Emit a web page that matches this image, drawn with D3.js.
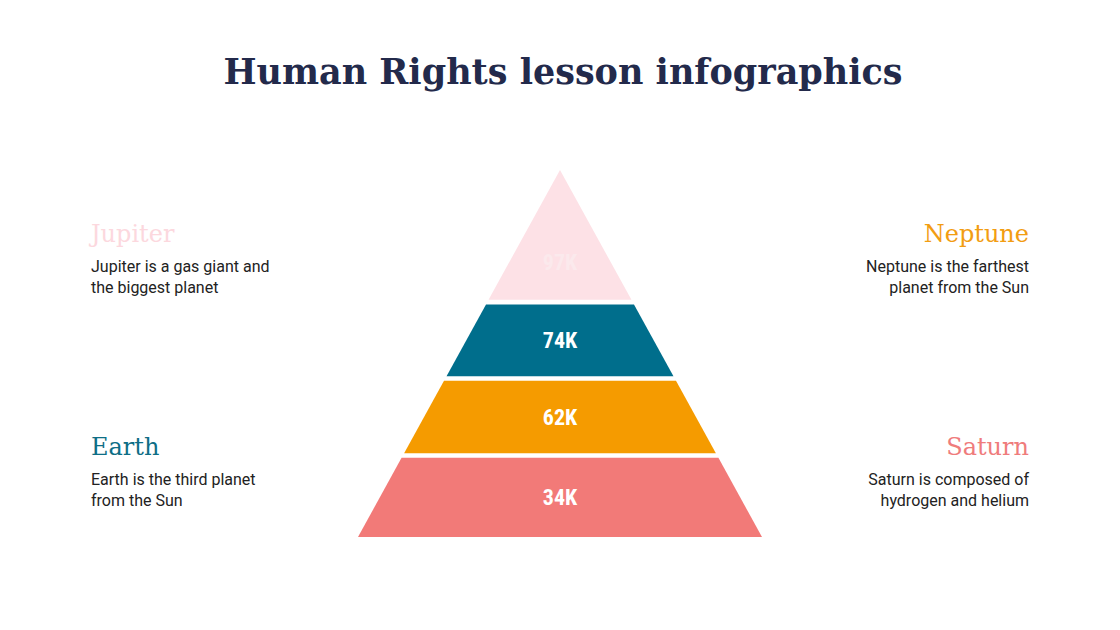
<!DOCTYPE html>
<html><head><meta charset="utf-8">
<script src="https://cdn.jsdelivr.net/npm/d3@7"></script>
<style>body{margin:0;background:#fff}svg{display:block}</style></head>
<body><svg id="c" width="1120" height="630"></svg>
<script>
const levels = ["97K","74K","62K","34K"];
const levelColors = ["#fde1e6","#006e8c","#f59b00","#f27a78"];
const labelColors = ["#fbe9ec","#ffffff","#ffffff","#ffffff"];
const names = ["Jupiter","Neptune","Earth","Saturn"];
const descs = [["Jupiter is a gas giant and","the biggest planet"],["Neptune is the farthest","planet from the Sun"],["Earth is the third planet","from the Sun"],["Saturn is composed of","hydrogen and helium"]];
const nameColors = ["#fcd8de","#f29d12","#0e6e86","#ef7c7c"];

const svg = d3.select("#c");
svg.append("text").attr("x",563).attr("y",84).attr("text-anchor","middle")
  .attr("font-family","DejaVu Serif").attr("font-weight","bold").attr("font-size",35)
  .attr("fill","#232a4b").text("Human Rights lesson infographics");

const apexY=170, baseY=537, cx=560, halfBase=202;
const edges=[0,0.36,0.568,0.778,1];
const y=d3.scaleLinear().domain([0,1]).range([apexY,baseY]);
const hw=d3.scaleLinear().domain([apexY,baseY]).range([0,halfBase]);
const gap=2.3;
levels.forEach((lab,i)=>{
  const y0=y(edges[i])+(i?gap:0), y1=y(edges[i+1])-(i<3?gap:0);
  const a=hw(y0), b=hw(y1);
  const pts=[[cx-a,y0],[cx+a,y0],[cx+b,y1],[cx-b,y1]];
  svg.append("path").attr("d",d3.line()(pts)+"Z").attr("fill",levelColors[i]);
  const ty = i==0 ? 262 : (y0+y1)/2;
  svg.append("text").attr("x",cx).attr("y",ty).attr("dy","0.35em").attr("text-anchor","middle")
    .attr("font-family","Liberation Sans Narrow, Roboto Condensed, Roboto").attr("font-weight","bold")
    .attr("font-size",22).attr("fill",labelColors[i]).text(lab);
});

const pos=[[91,233,"start"],[1029,233,"end"],[91,446,"start"],[1029,446,"end"]];
names.forEach((n,i)=>{
  const [x,yy,anc]=pos[i];
  svg.append("text").attr("x",x).attr("y",yy+9).attr("text-anchor",anc)
    .attr("font-family","DejaVu Serif").attr("font-size",24).attr("fill",nameColors[i]).text(n);
  descs[i].forEach((l,j)=>svg.append("text").attr("x",x).attr("y",yy+39+j*21).attr("text-anchor",anc)
    .attr("font-family","Roboto").attr("font-size",16).attr("fill","#222").text(l));
});
</script></body></html>
